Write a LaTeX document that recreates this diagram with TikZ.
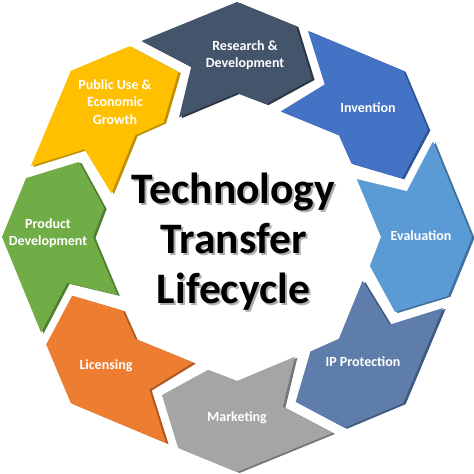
\documentclass[tikz,border=0pt]{standalone}
\usepackage{fontspec}
\setmainfont{Carlito}
\definecolor{rdC}{HTML}{44546A}\definecolor{rdS}{HTML}{2C3746}
\definecolor{invC}{HTML}{4472C4}\definecolor{invS}{HTML}{2F5597}
\definecolor{evC}{HTML}{5B9BD5}\definecolor{evS}{HTML}{41719C}
\definecolor{ipC}{HTML}{5E7DAA}\definecolor{ipS}{HTML}{3F5A80}
\definecolor{mkC}{HTML}{A5A5A5}\definecolor{mkS}{HTML}{767676}
\definecolor{liC}{HTML}{ED7D31}\definecolor{liS}{HTML}{AE5A21}
\definecolor{pdC}{HTML}{70AD47}\definecolor{pdS}{HTML}{4E7E30}
\definecolor{puC}{HTML}{FFC000}\definecolor{puS}{HTML}{BF9000}
\newcommand\segshape{(26:218) -- (0:235) -- (-15.6:219) -- (-25.4:175) -- (-12.3:136) -- (0:144) -- (25.8:133) -- (15.1:176) -- cycle}
\newcommand\mysegment[3]{%
  \fill[#3, shift={(239.5,236)}, rotate=#1] \segshape;
  \fill[#2, shift={(237,237)}, rotate=#1] \segshape;}
\tikzset{
  lab/.style={text=white, font=\bfseries\fontsize{14}{17.5}\selectfont, align=center, inner sep=0pt},
  title/.style={font=\bfseries\fontsize{43.5}{50}\selectfont, align=center, inner sep=0pt}
}
\begin{document}
\begin{tikzpicture}[x=1pt,y=1pt]
\useasboundingbox[fill=white] (0,0) rectangle (474,474);
\mysegment{90}{rdC}{rdS}
\mysegment{45}{invC}{invS}
\mysegment{0}{evC}{evS}
\mysegment{-45}{ipC}{ipS}
\mysegment{-90}{mkC}{mkS}
\mysegment{-135}{liC}{liS}
\mysegment{180}{pdC}{pdS}
\mysegment{135}{puC}{puS}
\node[lab] (rd) at (245,419) {Research \&\\Development};
\node[lab] (inv) at (368,366) {Invention};
\node[lab] (ev) at (421,238) {Evaluation};
\node[lab] (ip) at (363,112) {IP Protection};
\node[lab] (mk) at (237,56) {Marketing};
\node[lab] (li) at (106,108) {Licensing};
\node[lab] (pd) at (48,241) {Product\\Development};
\node[lab] (pu) at (115,372) {Public Use \&\\Economic\\Growth};
\node[title, text=black!45, opacity=0.7] (tsh) at (235.5,230.5) {Technology\\Transfer\\Lifecycle};
\node[title] (t) at (233.5,232.5) {Technology\\Transfer\\Lifecycle};
\end{tikzpicture}
\end{document}
